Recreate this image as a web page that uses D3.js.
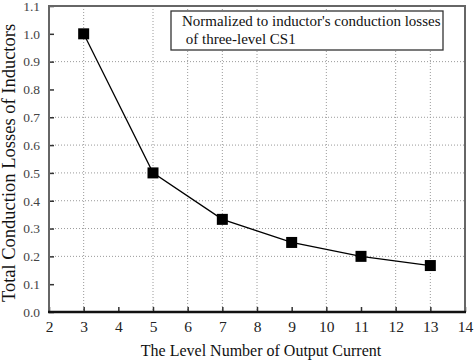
<!DOCTYPE html>
<html>
<head>
<meta charset="utf-8">
<script src="https://cdn.jsdelivr.net/npm/d3@7"></script>
<style>
  body { margin: 0; background: #fff; }
  svg { display: block; }
  svg text { font-family: "Liberation Serif", "Times New Roman", "DejaVu Serif", serif; }
</style>
</head>
<body>
<svg id="chart" width="474" height="363"></svg>
<script>
// data
const levels = [3, 5, 7, 9, 11, 13];
const losses = [1.0, 0.5, 0.333, 0.25, 0.2, 0.167];
const xTicks = [2, 3, 4, 5, 6, 7, 8, 9, 10, 11, 12, 13, 14];
const yTicks = [0.0, 0.1, 0.2, 0.3, 0.4, 0.5, 0.6, 0.7, 0.8, 0.9, 1.0, 1.1];
const xGrid = [3, 5, 6, 7, 8, 10, 12, 13];
const yGrid = [0.2, 0.3, 0.4, 0.5, 0.6, 0.7, 0.9];
const noteLines = ["Normalized to inductor's conduction losses", " of three-level CS1"];

const serif = "Liberation Serif, Times New Roman, DejaVu Serif, serif";
const svg = d3.select("#chart");
const pLeft = 49, pRight = 465, pTop = 6, pBottom = 312;

const x = d3.scaleLinear().domain([2, 14]).range([pLeft, pRight]);
const y = d3.scaleLinear().domain([0, 1.1]).range([pBottom, pTop]);

// grid
const grid = svg.append("g").attr("stroke", "#9a9a9a").attr("stroke-width", 1)
  .attr("stroke-dasharray", "1,2");
grid.selectAll(".vg").data(xGrid).enter().append("line")
  .attr("x1", d => x(d)).attr("x2", d => x(d))
  .attr("y1", pTop).attr("y2", pBottom);
grid.selectAll(".hg").data(yGrid).enter().append("line")
  .attr("x1", pLeft).attr("x2", pRight)
  .attr("y1", d => y(d)).attr("y2", d => y(d));

// axes (ticks pointing inward)
const xAxis = svg.append("g").attr("transform", `translate(0,${pBottom})`)
  .call(d3.axisBottom(x).tickValues(xTicks).tickSize(-5).tickPadding(9).tickFormat(d3.format("d")));
const yAxis = svg.append("g").attr("transform", `translate(${pLeft},0)`)
  .call(d3.axisLeft(y).tickValues(yTicks).tickSize(-5).tickPadding(9).tickFormat(d3.format(".1f")));

[xAxis, yAxis].forEach(a => {
  a.attr("font-family", serif);
  a.select(".domain").remove();
  a.selectAll(".tick line").attr("stroke", "#333").attr("stroke-width", 1.5);
  a.selectAll("text").attr("fill", "#222");
});
xAxis.selectAll("text").attr("font-size", 15.5);
yAxis.selectAll("text").attr("font-size", 13.5).attr("fill", "#444");

// frame
svg.append("rect").attr("x", pLeft).attr("y", pTop)
  .attr("width", pRight - pLeft).attr("height", pBottom - pTop)
  .attr("fill", "none").attr("stroke", "#666").attr("stroke-width", 2);
svg.append("line").attr("x1", pLeft - 1).attr("x2", pRight + 1)
  .attr("y1", pBottom).attr("y2", pBottom).attr("stroke", "#111").attr("stroke-width", 2.5);

// data line and markers
const pts = levels.map((d, i) => [d, losses[i]]);
svg.append("path").datum(pts)
  .attr("fill", "none").attr("stroke", "#000").attr("stroke-width", 1.3)
  .attr("d", d3.line().x(d => x(d[0])).y(d => y(d[1])));
svg.selectAll(".pt").data(pts).enter().append("rect")
  .attr("x", d => x(d[0]) - 5.5).attr("y", d => y(d[1]) - 5.5)
  .attr("width", 11).attr("height", 11).attr("fill", "#000");

// note box
svg.append("rect").attr("x", 171).attr("y", 11).attr("width", 272).attr("height", 39)
  .attr("fill", "#fff").attr("stroke", "#333").attr("stroke-width", 1.3);
svg.append("g").selectAll("text").data(noteLines).enter().append("text")
  .attr("x", 182).attr("y", (d, i) => 26 + i * 18)
  .attr("font-family", serif).attr("font-size", 15).attr("fill", "#111")
  .style("white-space", "pre").attr("xml:space", "preserve")
  .text(d => d);

// axis titles
svg.append("text").attr("x", (pLeft + pRight) / 2 + 4).attr("y", 356)
  .attr("text-anchor", "middle").attr("font-family", serif).attr("font-size", 16).attr("fill", "#111")
  .text("The Level Number of Output Current");
svg.append("text").attr("transform", "translate(15,163) rotate(-90)")
  .attr("text-anchor", "middle").attr("font-family", serif).attr("font-size", 18.5).attr("fill", "#111")
  .text("Total Conduction Losses of Inductors");
</script>
</body>
</html>
